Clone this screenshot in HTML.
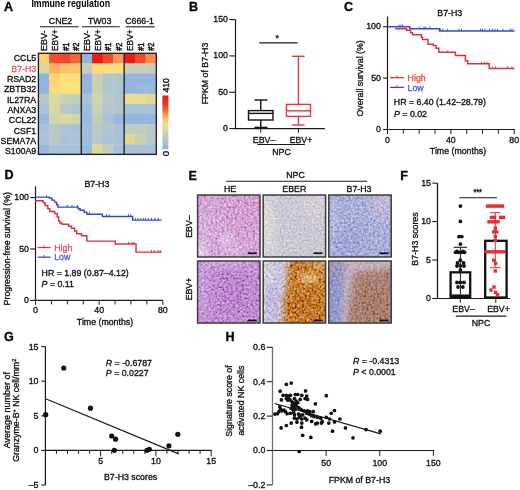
<!DOCTYPE html>
<html><head><meta charset="utf-8"><title>Figure</title>
<style>html,body{margin:0;padding:0;background:#fff;} svg{display:block;} text{font-family:'Liberation Sans', Arial, sans-serif;}</style>
</head><body>
<svg width="520" height="490" viewBox="0 0 520 490">
<rect width="520" height="490" fill="#fff"/>
<text transform="translate(4.00 11.00) scale(1.03 1)" font-size="12.20" font-weight="bold" fill="#000" stroke="#000" stroke-width="0.3">A</text>
<text transform="translate(189.00 11.00) scale(1.03 1)" font-size="12.20" font-weight="bold" fill="#000" stroke="#000" stroke-width="0.3">B</text>
<text transform="translate(344.00 11.30) scale(1.03 1)" font-size="12.20" font-weight="bold" fill="#000" stroke="#000" stroke-width="0.3">C</text>
<text transform="translate(4.40 179.30) scale(1.03 1)" font-size="12.20" font-weight="bold" fill="#000" stroke="#000" stroke-width="0.3">D</text>
<text transform="translate(188.60 180.00) scale(1.03 1)" font-size="12.20" font-weight="bold" fill="#000" stroke="#000" stroke-width="0.3">E</text>
<text transform="translate(400.30 180.00) scale(1.03 1)" font-size="12.20" font-weight="bold" fill="#000" stroke="#000" stroke-width="0.3">F</text>
<text transform="translate(4.00 340.60) scale(1.03 1)" font-size="12.20" font-weight="bold" fill="#000" stroke="#000" stroke-width="0.3">G</text>
<text transform="translate(225.60 340.50) scale(1.03 1)" font-size="12.20" font-weight="bold" fill="#000" stroke="#000" stroke-width="0.3">H</text>
<text transform="translate(31.40 6.60) scale(0.88 1)" font-size="10.00" font-weight="bold" fill="#000">Immune regulation</text>
<rect x="38.40" y="53.30" width="11.02" height="10.41" fill="#fbd36e"/>
<rect x="49.12" y="53.30" width="11.02" height="10.41" fill="#f24d2c"/>
<rect x="59.84" y="53.30" width="11.02" height="10.41" fill="#f0452a"/>
<rect x="70.55" y="53.30" width="11.02" height="10.41" fill="#f46637"/>
<rect x="81.27" y="53.30" width="11.02" height="10.41" fill="#92b5e0"/>
<rect x="91.99" y="53.30" width="11.02" height="10.41" fill="#f01a14"/>
<rect x="102.71" y="53.30" width="11.02" height="10.41" fill="#f24a28"/>
<rect x="113.43" y="53.30" width="11.02" height="10.41" fill="#f79a58"/>
<rect x="124.15" y="53.30" width="11.02" height="10.41" fill="#f01a14"/>
<rect x="134.86" y="53.30" width="11.02" height="10.41" fill="#f24a28"/>
<rect x="145.58" y="53.30" width="11.02" height="10.41" fill="#f88c48"/>
<rect x="38.40" y="63.41" width="11.02" height="10.41" fill="#d9d79a"/>
<rect x="49.12" y="63.41" width="11.02" height="10.41" fill="#f9b060"/>
<rect x="59.84" y="63.41" width="11.02" height="10.41" fill="#fbc26a"/>
<rect x="70.55" y="63.41" width="11.02" height="10.41" fill="#fbc56c"/>
<rect x="81.27" y="63.41" width="11.02" height="10.41" fill="#c8ccb8"/>
<rect x="91.99" y="63.41" width="11.02" height="10.41" fill="#fcdc7c"/>
<rect x="102.71" y="63.41" width="11.02" height="10.41" fill="#fcdc7c"/>
<rect x="113.43" y="63.41" width="11.02" height="10.41" fill="#fcdc80"/>
<rect x="124.15" y="63.41" width="11.02" height="10.41" fill="#c8d0b8"/>
<rect x="134.86" y="63.41" width="11.02" height="10.41" fill="#c8d0b8"/>
<rect x="145.58" y="63.41" width="11.02" height="10.41" fill="#c8ccb8"/>
<rect x="38.40" y="73.52" width="11.02" height="10.41" fill="#8fb3df"/>
<rect x="49.12" y="73.52" width="11.02" height="10.41" fill="#fcd470"/>
<rect x="59.84" y="73.52" width="11.02" height="10.41" fill="#fde07a"/>
<rect x="70.55" y="73.52" width="11.02" height="10.41" fill="#fde07a"/>
<rect x="81.27" y="73.52" width="11.02" height="10.41" fill="#92b5e0"/>
<rect x="91.99" y="73.52" width="11.02" height="10.41" fill="#c8d0b4"/>
<rect x="102.71" y="73.52" width="11.02" height="10.41" fill="#b0c4cc"/>
<rect x="113.43" y="73.52" width="11.02" height="10.41" fill="#b0c4d0"/>
<rect x="124.15" y="73.52" width="11.02" height="10.41" fill="#94b4e0"/>
<rect x="134.86" y="73.52" width="11.02" height="10.41" fill="#94b4e0"/>
<rect x="145.58" y="73.52" width="11.02" height="10.41" fill="#94b4e0"/>
<rect x="38.40" y="83.63" width="11.02" height="10.41" fill="#90b5df"/>
<rect x="49.12" y="83.63" width="11.02" height="10.41" fill="#fbd878"/>
<rect x="59.84" y="83.63" width="11.02" height="10.41" fill="#fde07a"/>
<rect x="70.55" y="83.63" width="11.02" height="10.41" fill="#fde07a"/>
<rect x="81.27" y="83.63" width="11.02" height="10.41" fill="#92b5e0"/>
<rect x="91.99" y="83.63" width="11.02" height="10.41" fill="#c8d0b4"/>
<rect x="102.71" y="83.63" width="11.02" height="10.41" fill="#b0c4cc"/>
<rect x="113.43" y="83.63" width="11.02" height="10.41" fill="#b0c4cc"/>
<rect x="124.15" y="83.63" width="11.02" height="10.41" fill="#94b4e0"/>
<rect x="134.86" y="83.63" width="11.02" height="10.41" fill="#98b8dc"/>
<rect x="145.58" y="83.63" width="11.02" height="10.41" fill="#98b8dc"/>
<rect x="38.40" y="93.74" width="11.02" height="10.41" fill="#b7c7c9"/>
<rect x="49.12" y="93.74" width="11.02" height="10.41" fill="#dad89c"/>
<rect x="59.84" y="93.74" width="11.02" height="10.41" fill="#c8d0b8"/>
<rect x="70.55" y="93.74" width="11.02" height="10.41" fill="#c0ccbe"/>
<rect x="81.27" y="93.74" width="11.02" height="10.41" fill="#a8c0d8"/>
<rect x="91.99" y="93.74" width="11.02" height="10.41" fill="#d0d4ac"/>
<rect x="102.71" y="93.74" width="11.02" height="10.41" fill="#b8c8c8"/>
<rect x="113.43" y="93.74" width="11.02" height="10.41" fill="#b0c4d0"/>
<rect x="124.15" y="93.74" width="11.02" height="10.41" fill="#e8dc90"/>
<rect x="134.86" y="93.74" width="11.02" height="10.41" fill="#e8dc90"/>
<rect x="145.58" y="93.74" width="11.02" height="10.41" fill="#e0d898"/>
<rect x="38.40" y="103.85" width="11.02" height="10.41" fill="#a8c0d8"/>
<rect x="49.12" y="103.85" width="11.02" height="10.41" fill="#d8d8a0"/>
<rect x="59.84" y="103.85" width="11.02" height="10.41" fill="#b8c8c8"/>
<rect x="70.55" y="103.85" width="11.02" height="10.41" fill="#b0c4d0"/>
<rect x="81.27" y="103.85" width="11.02" height="10.41" fill="#a0bcdc"/>
<rect x="91.99" y="103.85" width="11.02" height="10.41" fill="#c8d0b8"/>
<rect x="102.71" y="103.85" width="11.02" height="10.41" fill="#b4c4cc"/>
<rect x="113.43" y="103.85" width="11.02" height="10.41" fill="#b4c4cc"/>
<rect x="124.15" y="103.85" width="11.02" height="10.41" fill="#a8c0d8"/>
<rect x="134.86" y="103.85" width="11.02" height="10.41" fill="#a8c0d8"/>
<rect x="145.58" y="103.85" width="11.02" height="10.41" fill="#a8c0d8"/>
<rect x="38.40" y="113.96" width="11.02" height="10.41" fill="#98b8dc"/>
<rect x="49.12" y="113.96" width="11.02" height="10.41" fill="#d0d4a8"/>
<rect x="59.84" y="113.96" width="11.02" height="10.41" fill="#d8d8a0"/>
<rect x="70.55" y="113.96" width="11.02" height="10.41" fill="#d0d4a8"/>
<rect x="81.27" y="113.96" width="11.02" height="10.41" fill="#98b8e0"/>
<rect x="91.99" y="113.96" width="11.02" height="10.41" fill="#c0ccbc"/>
<rect x="102.71" y="113.96" width="11.02" height="10.41" fill="#a8c0d8"/>
<rect x="113.43" y="113.96" width="11.02" height="10.41" fill="#98b8e0"/>
<rect x="124.15" y="113.96" width="11.02" height="10.41" fill="#94b4e0"/>
<rect x="134.86" y="113.96" width="11.02" height="10.41" fill="#94b4e0"/>
<rect x="145.58" y="113.96" width="11.02" height="10.41" fill="#94b4e0"/>
<rect x="38.40" y="124.07" width="11.02" height="10.41" fill="#a8c0d8"/>
<rect x="49.12" y="124.07" width="11.02" height="10.41" fill="#b8c8c8"/>
<rect x="59.84" y="124.07" width="11.02" height="10.41" fill="#b0c4d0"/>
<rect x="70.55" y="124.07" width="11.02" height="10.41" fill="#a8c0d8"/>
<rect x="81.27" y="124.07" width="11.02" height="10.41" fill="#a0bcdc"/>
<rect x="91.99" y="124.07" width="11.02" height="10.41" fill="#b8c8c8"/>
<rect x="102.71" y="124.07" width="11.02" height="10.41" fill="#b0c4d0"/>
<rect x="113.43" y="124.07" width="11.02" height="10.41" fill="#a8c0d8"/>
<rect x="124.15" y="124.07" width="11.02" height="10.41" fill="#c0ccbc"/>
<rect x="134.86" y="124.07" width="11.02" height="10.41" fill="#c0ccbc"/>
<rect x="145.58" y="124.07" width="11.02" height="10.41" fill="#b8c8c8"/>
<rect x="38.40" y="134.18" width="11.02" height="10.41" fill="#a8c0d8"/>
<rect x="49.12" y="134.18" width="11.02" height="10.41" fill="#b8c8c8"/>
<rect x="59.84" y="134.18" width="11.02" height="10.41" fill="#a8c0d8"/>
<rect x="70.55" y="134.18" width="11.02" height="10.41" fill="#a8c0d8"/>
<rect x="81.27" y="134.18" width="11.02" height="10.41" fill="#a0bcdc"/>
<rect x="91.99" y="134.18" width="11.02" height="10.41" fill="#b8c8c8"/>
<rect x="102.71" y="134.18" width="11.02" height="10.41" fill="#a8c0d8"/>
<rect x="113.43" y="134.18" width="11.02" height="10.41" fill="#a8c0d8"/>
<rect x="124.15" y="134.18" width="11.02" height="10.41" fill="#e0d898"/>
<rect x="134.86" y="134.18" width="11.02" height="10.41" fill="#c8d0b4"/>
<rect x="145.58" y="134.18" width="11.02" height="10.41" fill="#b8c8c8"/>
<rect x="38.40" y="144.29" width="11.02" height="10.41" fill="#98b8e0"/>
<rect x="49.12" y="144.29" width="11.02" height="10.41" fill="#a8c0d8"/>
<rect x="59.84" y="144.29" width="11.02" height="10.41" fill="#a8c0d8"/>
<rect x="70.55" y="144.29" width="11.02" height="10.41" fill="#a8c0d8"/>
<rect x="81.27" y="144.29" width="11.02" height="10.41" fill="#98b8e0"/>
<rect x="91.99" y="144.29" width="11.02" height="10.41" fill="#e0d898"/>
<rect x="102.71" y="144.29" width="11.02" height="10.41" fill="#c0ccc0"/>
<rect x="113.43" y="144.29" width="11.02" height="10.41" fill="#a8c0d8"/>
<rect x="124.15" y="144.29" width="11.02" height="10.41" fill="#a8c0d8"/>
<rect x="134.86" y="144.29" width="11.02" height="10.41" fill="#a8c0d8"/>
<rect x="145.58" y="144.29" width="11.02" height="10.41" fill="#a8c0d8"/>
<rect x="38.40" y="53.30" width="117.90" height="101.10" fill="none" stroke="#1a1a1a" stroke-width="1.3"/>
<line x1="81.27" y1="53.30" x2="81.27" y2="154.40" stroke="#1a1a1a" stroke-width="1.3"/>
<line x1="124.15" y1="53.30" x2="124.15" y2="154.40" stroke="#1a1a1a" stroke-width="1.3"/>
<text transform="translate(36.20 61.40) scale(0.926 1)" font-size="9.50" text-anchor="end" stroke="#1a1a1a" stroke-width="0.35">CCL5</text>
<text transform="translate(36.20 71.70) scale(0.926 1)" font-size="9.50" text-anchor="end" fill="#e06262" stroke="#e06262" stroke-width="0.35">B7-H3</text>
<text transform="translate(36.20 82.00) scale(0.926 1)" font-size="9.50" text-anchor="end" stroke="#1a1a1a" stroke-width="0.35">RSAD2</text>
<text transform="translate(36.20 92.30) scale(0.926 1)" font-size="9.50" text-anchor="end" stroke="#1a1a1a" stroke-width="0.35">ZBTB32</text>
<text transform="translate(36.20 102.60) scale(0.926 1)" font-size="9.50" text-anchor="end" stroke="#1a1a1a" stroke-width="0.35">IL27RA</text>
<text transform="translate(36.20 112.90) scale(0.926 1)" font-size="9.50" text-anchor="end" stroke="#1a1a1a" stroke-width="0.35">ANXA3</text>
<text transform="translate(36.20 123.20) scale(0.926 1)" font-size="9.50" text-anchor="end" stroke="#1a1a1a" stroke-width="0.35">CCL22</text>
<text transform="translate(36.20 133.50) scale(0.926 1)" font-size="9.50" text-anchor="end" stroke="#1a1a1a" stroke-width="0.35">CSF1</text>
<text transform="translate(36.20 143.80) scale(0.926 1)" font-size="9.50" text-anchor="end" stroke="#1a1a1a" stroke-width="0.35">SEMA7A</text>
<text transform="translate(36.20 154.10) scale(0.926 1)" font-size="9.50" text-anchor="end" stroke="#1a1a1a" stroke-width="0.35">S100A9</text>
<text transform="translate(47.06 50.90) rotate(-90) scale(0.97 1)" font-size="9.20" stroke="#1a1a1a" stroke-width="0.35">EBV-</text>
<text transform="translate(57.78 50.90) rotate(-90) scale(0.9 1)" font-size="9.20" stroke="#1a1a1a" stroke-width="0.35">EBV+</text>
<text transform="translate(68.50 50.80) rotate(-90) scale(0.82 1)" font-size="9.00" stroke="#1a1a1a" stroke-width="0.5">#1</text>
<text transform="translate(79.21 50.80) rotate(-90) scale(0.82 1)" font-size="9.00" stroke="#1a1a1a" stroke-width="0.5">#2</text>
<text transform="translate(89.93 50.90) rotate(-90) scale(0.97 1)" font-size="9.20" stroke="#1a1a1a" stroke-width="0.35">EBV-</text>
<text transform="translate(100.65 50.90) rotate(-90) scale(0.9 1)" font-size="9.20" stroke="#1a1a1a" stroke-width="0.35">EBV+</text>
<text transform="translate(111.37 50.80) rotate(-90) scale(0.82 1)" font-size="9.00" stroke="#1a1a1a" stroke-width="0.5">#1</text>
<text transform="translate(122.09 50.80) rotate(-90) scale(0.82 1)" font-size="9.00" stroke="#1a1a1a" stroke-width="0.5">#2</text>
<text transform="translate(132.80 50.90) rotate(-90) scale(0.9 1)" font-size="9.20" stroke="#1a1a1a" stroke-width="0.35">EBV+</text>
<text transform="translate(143.52 50.80) rotate(-90) scale(0.82 1)" font-size="9.00" stroke="#1a1a1a" stroke-width="0.5">#1</text>
<text transform="translate(154.24 50.80) rotate(-90) scale(0.82 1)" font-size="9.00" stroke="#1a1a1a" stroke-width="0.5">#2</text>
<text transform="translate(60.50 24.20) scale(0.926 1)" font-size="9.50" text-anchor="middle" stroke="#1a1a1a" stroke-width="0.35">CNE2</text>
<line x1="40.00" y1="26.80" x2="78.70" y2="26.80" stroke="#1a1a1a" stroke-width="1.1"/>
<text transform="translate(99.60 24.20) scale(0.926 1)" font-size="9.50" text-anchor="middle" stroke="#1a1a1a" stroke-width="0.35">TW03</text>
<line x1="82.00" y1="26.80" x2="119.80" y2="26.80" stroke="#1a1a1a" stroke-width="1.1"/>
<text transform="translate(139.60 24.20) scale(0.926 1)" font-size="9.50" text-anchor="middle" stroke="#1a1a1a" stroke-width="0.35">C666-1</text>
<line x1="125.80" y1="26.80" x2="154.70" y2="26.80" stroke="#1a1a1a" stroke-width="1.1"/>
<defs><linearGradient id="cb" x1="0" y1="1" x2="0" y2="0"><stop offset="0" stop-color="#8cb2de"/><stop offset="0.2" stop-color="#b8c6c8"/><stop offset="0.35" stop-color="#d8d6a8"/><stop offset="0.48" stop-color="#f2e07c"/><stop offset="0.62" stop-color="#f6a650"/><stop offset="0.75" stop-color="#f05a2c"/><stop offset="0.88" stop-color="#ec2a1e"/><stop offset="1" stop-color="#ea1a1a"/></linearGradient></defs>
<rect x="162.40" y="95.50" width="6.00" height="53.70" fill="url(#cb)"/>
<text transform="translate(168.60 92.60) rotate(-90) scale(1.0 1)" font-size="8.60" stroke="#1a1a1a" stroke-width="0.35">410</text>
<text transform="translate(168.60 156.30) rotate(-90) scale(1.0 1)" font-size="9.66" stroke="#1a1a1a" stroke-width="0.35">0</text>
<line x1="235.50" y1="19.55" x2="235.50" y2="129.10" stroke="#1a1a1a" stroke-width="1.2"/>
<line x1="229.30" y1="128.60" x2="235.50" y2="128.60" stroke="#1a1a1a" stroke-width="1.1"/>
<text transform="translate(228.00 131.10) scale(0.926 1)" font-size="9.50" text-anchor="end" stroke="#1a1a1a" stroke-width="0.35">0</text>
<line x1="229.30" y1="92.25" x2="235.50" y2="92.25" stroke="#1a1a1a" stroke-width="1.1"/>
<text transform="translate(228.00 94.75) scale(0.926 1)" font-size="9.50" text-anchor="end" stroke="#1a1a1a" stroke-width="0.35">50</text>
<line x1="229.30" y1="55.90" x2="235.50" y2="55.90" stroke="#1a1a1a" stroke-width="1.1"/>
<text transform="translate(228.00 58.40) scale(0.926 1)" font-size="9.50" text-anchor="end" stroke="#1a1a1a" stroke-width="0.35">100</text>
<line x1="229.30" y1="19.55" x2="235.50" y2="19.55" stroke="#1a1a1a" stroke-width="1.1"/>
<text transform="translate(228.00 22.05) scale(0.926 1)" font-size="9.50" text-anchor="end" stroke="#1a1a1a" stroke-width="0.35">150</text>
<line x1="234.90" y1="128.60" x2="324.90" y2="128.60" stroke="#1a1a1a" stroke-width="1.2"/>
<text transform="translate(208.00 73.50) rotate(-90) scale(0.909 1)" font-size="9.68" text-anchor="middle" stroke="#1a1a1a" stroke-width="0.35">FPKM of B7-H3</text>
<rect x="248.50" y="110.60" width="24.50" height="9.40" fill="#fff" stroke="#111" stroke-width="1.4"/>
<line x1="248.50" y1="113.40" x2="273.00" y2="113.40" stroke="#111" stroke-width="1.4"/>
<line x1="260.75" y1="100.00" x2="260.75" y2="110.60" stroke="#111" stroke-width="1.4"/>
<line x1="260.75" y1="120.00" x2="260.75" y2="127.40" stroke="#111" stroke-width="1.4"/>
<line x1="254.50" y1="100.00" x2="267.50" y2="100.00" stroke="#111" stroke-width="1.4"/>
<line x1="254.50" y1="127.40" x2="267.50" y2="127.40" stroke="#111" stroke-width="1.4"/>
<rect x="286.40" y="104.40" width="24.10" height="12.00" fill="#fff" stroke="#e03844" stroke-width="1.4"/>
<line x1="286.40" y1="110.80" x2="310.50" y2="110.80" stroke="#e03844" stroke-width="1.4"/>
<line x1="298.45" y1="56.30" x2="298.45" y2="104.40" stroke="#e03844" stroke-width="1.4"/>
<line x1="298.45" y1="116.40" x2="298.45" y2="125.00" stroke="#e03844" stroke-width="1.4"/>
<line x1="292.00" y1="56.30" x2="304.60" y2="56.30" stroke="#e03844" stroke-width="1.4"/>
<line x1="292.00" y1="125.00" x2="304.60" y2="125.00" stroke="#e03844" stroke-width="1.4"/>
<line x1="259.30" y1="42.90" x2="297.40" y2="42.90" stroke="#1a1a1a" stroke-width="1.1"/>
<text transform="translate(277.30 40.50) scale(0.926 1)" font-size="9.50" text-anchor="middle" stroke="#1a1a1a" stroke-width="0.35">*</text>
<text transform="translate(264.10 142.60) scale(0.926 1)" font-size="9.50" text-anchor="middle" stroke="#1a1a1a" stroke-width="0.35">EBV–</text>
<line x1="260.75" y1="128.60" x2="260.75" y2="132.80" stroke="#1a1a1a" stroke-width="1.0"/>
<line x1="298.45" y1="128.60" x2="298.45" y2="132.80" stroke="#1a1a1a" stroke-width="1.0"/>
<text transform="translate(301.00 142.60) scale(0.926 1)" font-size="9.50" text-anchor="middle" stroke="#1a1a1a" stroke-width="0.35">EBV+</text>
<line x1="257.30" y1="144.50" x2="304.90" y2="144.50" stroke="#1a1a1a" stroke-width="1.1"/>
<text transform="translate(281.50 155.00) scale(0.926 1)" font-size="9.50" text-anchor="middle" stroke="#1a1a1a" stroke-width="0.35">NPC</text>
<line x1="387.50" y1="16.50" x2="387.50" y2="130.10" stroke="#1a1a1a" stroke-width="1.2"/>
<line x1="383.10" y1="129.50" x2="387.50" y2="129.50" stroke="#1a1a1a" stroke-width="1.1"/>
<text transform="translate(380.90 132.00) scale(0.926 1)" font-size="9.50" text-anchor="end" stroke="#1a1a1a" stroke-width="0.35">0</text>
<line x1="383.10" y1="78.10" x2="387.50" y2="78.10" stroke="#1a1a1a" stroke-width="1.1"/>
<text transform="translate(380.90 80.60) scale(0.926 1)" font-size="9.50" text-anchor="end" stroke="#1a1a1a" stroke-width="0.35">50</text>
<line x1="383.10" y1="26.70" x2="387.50" y2="26.70" stroke="#1a1a1a" stroke-width="1.1"/>
<text transform="translate(380.90 29.20) scale(0.926 1)" font-size="9.50" text-anchor="end" stroke="#1a1a1a" stroke-width="0.35">100</text>
<line x1="386.90" y1="129.50" x2="515.00" y2="129.50" stroke="#1a1a1a" stroke-width="1.2"/>
<line x1="387.50" y1="129.50" x2="387.50" y2="134.10" stroke="#1a1a1a" stroke-width="1.0"/>
<line x1="403.34" y1="129.50" x2="403.34" y2="133.70" stroke="#1a1a1a" stroke-width="1.0"/>
<line x1="419.18" y1="129.50" x2="419.18" y2="133.70" stroke="#1a1a1a" stroke-width="1.0"/>
<line x1="435.01" y1="129.50" x2="435.01" y2="133.70" stroke="#1a1a1a" stroke-width="1.0"/>
<line x1="450.85" y1="129.50" x2="450.85" y2="134.10" stroke="#1a1a1a" stroke-width="1.0"/>
<line x1="466.69" y1="129.50" x2="466.69" y2="133.70" stroke="#1a1a1a" stroke-width="1.0"/>
<line x1="482.52" y1="129.50" x2="482.52" y2="133.70" stroke="#1a1a1a" stroke-width="1.0"/>
<line x1="498.36" y1="129.50" x2="498.36" y2="133.70" stroke="#1a1a1a" stroke-width="1.0"/>
<line x1="514.20" y1="129.50" x2="514.20" y2="134.10" stroke="#1a1a1a" stroke-width="1.0"/>
<text transform="translate(387.50 142.80) scale(0.926 1)" font-size="9.50" text-anchor="middle" stroke="#1a1a1a" stroke-width="0.35">0</text>
<text transform="translate(450.85 142.80) scale(0.926 1)" font-size="9.50" text-anchor="middle" stroke="#1a1a1a" stroke-width="0.35">40</text>
<text transform="translate(514.20 142.80) scale(0.926 1)" font-size="9.50" text-anchor="middle" stroke="#1a1a1a" stroke-width="0.35">80</text>
<text transform="translate(458.00 154.30) scale(0.926 1)" font-size="9.50" text-anchor="middle" stroke="#1a1a1a" stroke-width="0.35">Time (months)</text>
<text transform="translate(449.80 16.40) scale(0.926 1)" font-size="9.50" text-anchor="middle" stroke="#1a1a1a" stroke-width="0.35">B7-H3</text>
<text transform="translate(363.20 78.40) rotate(-90) scale(0.909 1)" font-size="9.68" text-anchor="middle" stroke="#1a1a1a" stroke-width="0.35">Overall survival (%)</text>
<polyline points="387.80,26.80 409.90,26.80 409.90,28.80 439.50,28.80 439.50,30.90 514.60,30.90" fill="none" stroke="#3d45cc" stroke-width="1.45" stroke-linejoin="miter"/>
<line x1="399.00" y1="24.60" x2="399.00" y2="26.80" stroke="#3d45cc" stroke-width="0.9"/>
<line x1="401.00" y1="24.60" x2="401.00" y2="26.80" stroke="#3d45cc" stroke-width="0.9"/>
<line x1="402.50" y1="24.60" x2="402.50" y2="26.80" stroke="#3d45cc" stroke-width="0.9"/>
<line x1="419.30" y1="26.60" x2="419.30" y2="28.80" stroke="#3d45cc" stroke-width="0.9"/>
<line x1="424.00" y1="26.60" x2="424.00" y2="28.80" stroke="#3d45cc" stroke-width="0.9"/>
<line x1="425.40" y1="26.60" x2="425.40" y2="28.80" stroke="#3d45cc" stroke-width="0.9"/>
<line x1="430.00" y1="26.60" x2="430.00" y2="28.80" stroke="#3d45cc" stroke-width="0.9"/>
<line x1="440.50" y1="28.70" x2="440.50" y2="30.90" stroke="#3d45cc" stroke-width="0.9"/>
<line x1="443.00" y1="28.70" x2="443.00" y2="30.90" stroke="#3d45cc" stroke-width="0.9"/>
<line x1="447.70" y1="28.70" x2="447.70" y2="30.90" stroke="#3d45cc" stroke-width="0.9"/>
<line x1="459.00" y1="28.70" x2="459.00" y2="30.90" stroke="#3d45cc" stroke-width="0.9"/>
<line x1="461.50" y1="28.70" x2="461.50" y2="30.90" stroke="#3d45cc" stroke-width="0.9"/>
<line x1="480.50" y1="28.70" x2="480.50" y2="30.90" stroke="#3d45cc" stroke-width="0.9"/>
<line x1="482.50" y1="28.70" x2="482.50" y2="30.90" stroke="#3d45cc" stroke-width="0.9"/>
<line x1="485.00" y1="28.70" x2="485.00" y2="30.90" stroke="#3d45cc" stroke-width="0.9"/>
<line x1="489.50" y1="28.70" x2="489.50" y2="30.90" stroke="#3d45cc" stroke-width="0.9"/>
<line x1="492.50" y1="28.70" x2="492.50" y2="30.90" stroke="#3d45cc" stroke-width="0.9"/>
<line x1="495.00" y1="28.70" x2="495.00" y2="30.90" stroke="#3d45cc" stroke-width="0.9"/>
<line x1="497.50" y1="28.70" x2="497.50" y2="30.90" stroke="#3d45cc" stroke-width="0.9"/>
<line x1="503.00" y1="28.70" x2="503.00" y2="30.90" stroke="#3d45cc" stroke-width="0.9"/>
<line x1="510.00" y1="28.70" x2="510.00" y2="30.90" stroke="#3d45cc" stroke-width="0.9"/>
<line x1="512.00" y1="28.70" x2="512.00" y2="30.90" stroke="#3d45cc" stroke-width="0.9"/>
<polyline points="395.10,28.80 406.50,28.80 406.50,30.20 410.60,30.20 410.60,32.80 412.60,32.80 412.60,34.80 421.30,34.80 421.30,37.20 422.50,37.20 422.50,39.50 428.00,39.50 428.00,44.20 433.50,44.20 433.50,45.60 436.10,45.60 436.10,48.30 438.80,48.30 438.80,52.30 455.40,52.30 455.40,55.40 465.40,55.40 465.40,60.80 467.70,60.80 467.70,63.80 489.20,63.80 489.20,68.50 514.60,68.50" fill="none" stroke="#d8323f" stroke-width="1.45" stroke-linejoin="miter"/>
<line x1="447.70" y1="50.10" x2="447.70" y2="52.30" stroke="#d8323f" stroke-width="0.9"/>
<line x1="481.50" y1="61.60" x2="481.50" y2="63.80" stroke="#d8323f" stroke-width="0.9"/>
<line x1="484.60" y1="61.60" x2="484.60" y2="63.80" stroke="#d8323f" stroke-width="0.9"/>
<line x1="487.00" y1="61.60" x2="487.00" y2="63.80" stroke="#d8323f" stroke-width="0.9"/>
<line x1="492.30" y1="66.30" x2="492.30" y2="68.50" stroke="#d8323f" stroke-width="0.9"/>
<line x1="495.40" y1="66.30" x2="495.40" y2="68.50" stroke="#d8323f" stroke-width="0.9"/>
<line x1="507.70" y1="66.30" x2="507.70" y2="68.50" stroke="#d8323f" stroke-width="0.9"/>
<line x1="512.00" y1="66.30" x2="512.00" y2="68.50" stroke="#d8323f" stroke-width="0.9"/>
<line x1="390.00" y1="77.60" x2="404.00" y2="77.60" stroke="#d8323f" stroke-width="1.3"/>
<line x1="397.00" y1="75.50" x2="397.00" y2="77.60" stroke="#d8323f" stroke-width="0.9"/>
<line x1="390.00" y1="87.40" x2="404.00" y2="87.40" stroke="#3d45cc" stroke-width="1.3"/>
<line x1="397.00" y1="85.30" x2="397.00" y2="87.40" stroke="#3d45cc" stroke-width="0.9"/>
<text transform="translate(407.60 81.30) scale(0.926 1)" font-size="9.50" fill="#e8505a" stroke="#e8505a" stroke-width="0.35">High</text>
<text transform="translate(407.60 91.10) scale(0.926 1)" font-size="9.50" fill="#5060e0" stroke="#5060e0" stroke-width="0.35">Low</text>
<text transform="translate(393.80 105.00) scale(0.926 1)" font-size="9.50" stroke="#1a1a1a" stroke-width="0.35">HR = 6.40 (1.42–28.79)</text>
<text transform="translate(394.00 117.30) scale(0.926 1)" font-size="9.50" stroke="#1a1a1a" stroke-width="0.35"><tspan font-style="italic">P</tspan> = 0.02</text>
<line x1="35.50" y1="186.30" x2="35.50" y2="301.00" stroke="#1a1a1a" stroke-width="1.2"/>
<line x1="30.20" y1="300.40" x2="35.50" y2="300.40" stroke="#1a1a1a" stroke-width="1.1"/>
<text transform="translate(29.00 302.90) scale(0.926 1)" font-size="9.50" text-anchor="end" stroke="#1a1a1a" stroke-width="0.35">0</text>
<line x1="30.20" y1="249.00" x2="35.50" y2="249.00" stroke="#1a1a1a" stroke-width="1.1"/>
<text transform="translate(29.00 251.50) scale(0.926 1)" font-size="9.50" text-anchor="end" stroke="#1a1a1a" stroke-width="0.35">50</text>
<line x1="30.20" y1="197.60" x2="35.50" y2="197.60" stroke="#1a1a1a" stroke-width="1.1"/>
<text transform="translate(29.00 200.10) scale(0.926 1)" font-size="9.50" text-anchor="end" stroke="#1a1a1a" stroke-width="0.35">100</text>
<line x1="34.90" y1="300.40" x2="163.00" y2="300.40" stroke="#1a1a1a" stroke-width="1.2"/>
<line x1="35.50" y1="300.40" x2="35.50" y2="304.80" stroke="#1a1a1a" stroke-width="1.0"/>
<line x1="51.41" y1="300.40" x2="51.41" y2="304.40" stroke="#1a1a1a" stroke-width="1.0"/>
<line x1="67.33" y1="300.40" x2="67.33" y2="304.40" stroke="#1a1a1a" stroke-width="1.0"/>
<line x1="83.24" y1="300.40" x2="83.24" y2="304.40" stroke="#1a1a1a" stroke-width="1.0"/>
<line x1="99.15" y1="300.40" x2="99.15" y2="304.80" stroke="#1a1a1a" stroke-width="1.0"/>
<line x1="115.06" y1="300.40" x2="115.06" y2="304.40" stroke="#1a1a1a" stroke-width="1.0"/>
<line x1="130.98" y1="300.40" x2="130.98" y2="304.40" stroke="#1a1a1a" stroke-width="1.0"/>
<line x1="146.89" y1="300.40" x2="146.89" y2="304.40" stroke="#1a1a1a" stroke-width="1.0"/>
<line x1="162.80" y1="300.40" x2="162.80" y2="304.80" stroke="#1a1a1a" stroke-width="1.0"/>
<text transform="translate(35.50 312.50) scale(0.926 1)" font-size="9.50" text-anchor="middle" stroke="#1a1a1a" stroke-width="0.35">0</text>
<text transform="translate(99.15 312.50) scale(0.926 1)" font-size="9.50" text-anchor="middle" stroke="#1a1a1a" stroke-width="0.35">40</text>
<text transform="translate(162.80 312.50) scale(0.926 1)" font-size="9.50" text-anchor="middle" stroke="#1a1a1a" stroke-width="0.35">80</text>
<text transform="translate(105.00 324.60) scale(0.926 1)" font-size="9.50" text-anchor="middle" stroke="#1a1a1a" stroke-width="0.35">Time (months)</text>
<text transform="translate(96.90 187.10) scale(0.926 1)" font-size="9.50" text-anchor="middle" stroke="#1a1a1a" stroke-width="0.35">B7-H3</text>
<text transform="translate(9.60 248.70) rotate(-90) scale(0.909 1)" font-size="9.68" text-anchor="middle" stroke="#1a1a1a" stroke-width="0.35">Progression-free survival (%)</text>
<polyline points="35.30,197.10 49.20,197.10 49.20,198.00 51.80,198.00 51.80,200.10 54.50,200.10 54.50,202.10 56.60,202.10 56.60,204.80 57.90,204.80 57.90,207.10 78.10,207.10 78.10,208.80 80.10,208.80 80.10,210.20 84.10,210.20 84.10,212.20 86.80,212.20 86.80,214.20 102.40,214.20 102.40,216.40 132.70,216.40 132.70,220.10 161.60,220.10" fill="none" stroke="#3d45cc" stroke-width="1.45" stroke-linejoin="miter"/>
<line x1="46.50" y1="194.90" x2="46.50" y2="197.10" stroke="#3d45cc" stroke-width="0.9"/>
<line x1="67.30" y1="204.90" x2="67.30" y2="207.10" stroke="#3d45cc" stroke-width="0.9"/>
<line x1="72.00" y1="204.90" x2="72.00" y2="207.10" stroke="#3d45cc" stroke-width="0.9"/>
<line x1="77.40" y1="204.90" x2="77.40" y2="207.10" stroke="#3d45cc" stroke-width="0.9"/>
<line x1="89.50" y1="212.00" x2="89.50" y2="214.20" stroke="#3d45cc" stroke-width="0.9"/>
<line x1="106.40" y1="214.20" x2="106.40" y2="216.40" stroke="#3d45cc" stroke-width="0.9"/>
<line x1="109.10" y1="214.20" x2="109.10" y2="216.40" stroke="#3d45cc" stroke-width="0.9"/>
<line x1="128.60" y1="214.20" x2="128.60" y2="216.40" stroke="#3d45cc" stroke-width="0.9"/>
<line x1="130.70" y1="214.20" x2="130.70" y2="216.40" stroke="#3d45cc" stroke-width="0.9"/>
<line x1="135.40" y1="217.90" x2="135.40" y2="220.10" stroke="#3d45cc" stroke-width="0.9"/>
<line x1="138.10" y1="217.90" x2="138.10" y2="220.10" stroke="#3d45cc" stroke-width="0.9"/>
<line x1="140.80" y1="217.90" x2="140.80" y2="220.10" stroke="#3d45cc" stroke-width="0.9"/>
<line x1="143.50" y1="217.90" x2="143.50" y2="220.10" stroke="#3d45cc" stroke-width="0.9"/>
<line x1="145.50" y1="217.90" x2="145.50" y2="220.10" stroke="#3d45cc" stroke-width="0.9"/>
<line x1="148.20" y1="217.90" x2="148.20" y2="220.10" stroke="#3d45cc" stroke-width="0.9"/>
<line x1="151.50" y1="217.90" x2="151.50" y2="220.10" stroke="#3d45cc" stroke-width="0.9"/>
<line x1="154.90" y1="217.90" x2="154.90" y2="220.10" stroke="#3d45cc" stroke-width="0.9"/>
<line x1="158.30" y1="217.90" x2="158.30" y2="220.10" stroke="#3d45cc" stroke-width="0.9"/>
<polyline points="35.30,200.70 43.10,200.70 43.10,202.80 45.10,202.80 45.10,205.50 47.80,205.50 47.80,208.80 49.80,208.80 49.80,211.50 54.50,211.50 54.50,213.50 57.20,213.50 57.20,216.90 58.60,216.90 58.60,220.90 59.90,220.90 59.90,223.00 61.90,223.00 61.90,224.30 68.70,224.30 68.70,226.30 71.40,226.30 71.40,228.30 74.70,228.30 74.70,231.00 76.70,231.00 76.70,233.70 81.50,233.70 81.50,235.70 86.80,235.70 86.80,241.10 115.20,241.10 115.20,244.00 136.00,244.00 136.00,252.10 161.60,252.10" fill="none" stroke="#d8323f" stroke-width="1.45" stroke-linejoin="miter"/>
<line x1="128.60" y1="241.80" x2="128.60" y2="244.00" stroke="#d8323f" stroke-width="0.9"/>
<line x1="132.00" y1="241.80" x2="132.00" y2="244.00" stroke="#d8323f" stroke-width="0.9"/>
<line x1="134.00" y1="241.80" x2="134.00" y2="244.00" stroke="#d8323f" stroke-width="0.9"/>
<line x1="151.50" y1="249.90" x2="151.50" y2="252.10" stroke="#d8323f" stroke-width="0.9"/>
<line x1="154.20" y1="249.90" x2="154.20" y2="252.10" stroke="#d8323f" stroke-width="0.9"/>
<line x1="158.30" y1="249.90" x2="158.30" y2="252.10" stroke="#d8323f" stroke-width="0.9"/>
<line x1="160.30" y1="249.90" x2="160.30" y2="252.10" stroke="#d8323f" stroke-width="0.9"/>
<line x1="37.60" y1="247.50" x2="50.60" y2="247.50" stroke="#d8323f" stroke-width="1.3"/>
<line x1="44.10" y1="245.40" x2="44.10" y2="247.50" stroke="#d8323f" stroke-width="0.9"/>
<line x1="37.60" y1="257.20" x2="50.60" y2="257.20" stroke="#3d45cc" stroke-width="1.3"/>
<line x1="44.10" y1="255.10" x2="44.10" y2="257.20" stroke="#3d45cc" stroke-width="0.9"/>
<text transform="translate(54.20 250.80) scale(0.926 1)" font-size="9.50" fill="#e8505a" stroke="#e8505a" stroke-width="0.35">High</text>
<text transform="translate(54.20 260.40) scale(0.926 1)" font-size="9.50" fill="#5060e0" stroke="#5060e0" stroke-width="0.35">Low</text>
<text transform="translate(41.60 275.50) scale(0.926 1)" font-size="9.50" stroke="#1a1a1a" stroke-width="0.35">HR = 1.89 (0.87–4.12)</text>
<text transform="translate(41.60 286.60) scale(0.926 1)" font-size="9.50" stroke="#1a1a1a" stroke-width="0.35"><tspan font-style="italic">P</tspan> = 0.11</text>
<text transform="translate(295.50 178.00) scale(0.926 1)" font-size="9.50" text-anchor="middle" stroke="#1a1a1a" stroke-width="0.35">NPC</text>
<line x1="226.20" y1="181.20" x2="367.10" y2="181.20" stroke="#1a1a1a" stroke-width="1.1"/>
<text transform="translate(230.00 192.00) scale(0.926 1)" font-size="9.50" text-anchor="middle" stroke="#1a1a1a" stroke-width="0.35">HE</text>
<text transform="translate(294.30 192.00) scale(0.926 1)" font-size="9.50" text-anchor="middle" stroke="#1a1a1a" stroke-width="0.35">EBER</text>
<text transform="translate(359.00 192.00) scale(0.926 1)" font-size="9.50" text-anchor="middle" stroke="#1a1a1a" stroke-width="0.35">B7-H3</text>
<text transform="translate(192.00 226.60) rotate(-90) scale(0.909 1)" font-size="9.68" text-anchor="middle" stroke="#1a1a1a" stroke-width="0.35">EBV–</text>
<text transform="translate(191.60 289.00) rotate(-90) scale(0.909 1)" font-size="9.68" text-anchor="middle" stroke="#1a1a1a" stroke-width="0.35">EBV+</text>
<defs>
<filter id="tx0" x="0" y="0" width="1" height="1"><feTurbulence type="fractalNoise" baseFrequency="0.45" numOctaves="3" seed="3" result="t"/><feColorMatrix in="t" type="matrix" values="1 0 0 0 0  1 0 0 0 0  1 0 0 0 0  0 0 0 0 1" result="g0"/><feComponentTransfer in="g0" result="g"><feFuncR type="table" tableValues="0 0.05 0.3 0.5 0.7 0.95 1"/><feFuncG type="table" tableValues="0 0.05 0.3 0.5 0.7 0.95 1"/><feFuncB type="table" tableValues="0 0.05 0.3 0.5 0.7 0.95 1"/></feComponentTransfer><feComposite in="SourceGraphic" in2="g" operator="arithmetic" k1="0" k2="1" k3="0.6" k4="-0.300"/></filter>
<filter id="tx1" x="0" y="0" width="1" height="1"><feTurbulence type="fractalNoise" baseFrequency="0.5" numOctaves="3" seed="5" result="t"/><feColorMatrix in="t" type="matrix" values="1 0 0 0 0  1 0 0 0 0  1 0 0 0 0  0 0 0 0 1" result="g0"/><feComponentTransfer in="g0" result="g"><feFuncR type="table" tableValues="0 0.05 0.3 0.5 0.7 0.95 1"/><feFuncG type="table" tableValues="0 0.05 0.3 0.5 0.7 0.95 1"/><feFuncB type="table" tableValues="0 0.05 0.3 0.5 0.7 0.95 1"/></feComponentTransfer><feComposite in="SourceGraphic" in2="g" operator="arithmetic" k1="0" k2="1" k3="0.45" k4="-0.225"/></filter>
<filter id="tx2" x="0" y="0" width="1" height="1"><feTurbulence type="fractalNoise" baseFrequency="0.45" numOctaves="3" seed="8" result="t"/><feColorMatrix in="t" type="matrix" values="1 0 0 0 0  1 0 0 0 0  1 0 0 0 0  0 0 0 0 1" result="g0"/><feComponentTransfer in="g0" result="g"><feFuncR type="table" tableValues="0 0.05 0.3 0.5 0.7 0.95 1"/><feFuncG type="table" tableValues="0 0.05 0.3 0.5 0.7 0.95 1"/><feFuncB type="table" tableValues="0 0.05 0.3 0.5 0.7 0.95 1"/></feComponentTransfer><feComposite in="SourceGraphic" in2="g" operator="arithmetic" k1="0" k2="1" k3="0.55" k4="-0.275"/></filter>
<filter id="tx3" x="0" y="0" width="1" height="1"><feTurbulence type="fractalNoise" baseFrequency="0.45" numOctaves="3" seed="11" result="t"/><feColorMatrix in="t" type="matrix" values="1 0 0 0 0  1 0 0 0 0  1 0 0 0 0  0 0 0 0 1" result="g0"/><feComponentTransfer in="g0" result="g"><feFuncR type="table" tableValues="0 0.05 0.3 0.5 0.7 0.95 1"/><feFuncG type="table" tableValues="0 0.05 0.3 0.5 0.7 0.95 1"/><feFuncB type="table" tableValues="0 0.05 0.3 0.5 0.7 0.95 1"/></feComponentTransfer><feComposite in="SourceGraphic" in2="g" operator="arithmetic" k1="0" k2="1" k3="0.55" k4="-0.275"/></filter>
<filter id="tx4" x="0" y="0" width="1" height="1"><feTurbulence type="fractalNoise" baseFrequency="0.42" numOctaves="3" seed="13" result="t"/><feColorMatrix in="t" type="matrix" values="1 0 0 0 0  1 0 0 0 0  1 0 0 0 0  0 0 0 0 1" result="g0"/><feComponentTransfer in="g0" result="g"><feFuncR type="table" tableValues="0 0.05 0.3 0.5 0.7 0.95 1"/><feFuncG type="table" tableValues="0 0.05 0.3 0.5 0.7 0.95 1"/><feFuncB type="table" tableValues="0 0.05 0.3 0.5 0.7 0.95 1"/></feComponentTransfer><feComposite in="SourceGraphic" in2="g" operator="arithmetic" k1="0" k2="1" k3="0.6" k4="-0.300"/></filter>
<filter id="tx5" x="0" y="0" width="1" height="1"><feTurbulence type="fractalNoise" baseFrequency="0.45" numOctaves="3" seed="17" result="t"/><feColorMatrix in="t" type="matrix" values="1 0 0 0 0  1 0 0 0 0  1 0 0 0 0  0 0 0 0 1" result="g0"/><feComponentTransfer in="g0" result="g"><feFuncR type="table" tableValues="0 0.05 0.3 0.5 0.7 0.95 1"/><feFuncG type="table" tableValues="0 0.05 0.3 0.5 0.7 0.95 1"/><feFuncB type="table" tableValues="0 0.05 0.3 0.5 0.7 0.95 1"/></feComponentTransfer><feComposite in="SourceGraphic" in2="g" operator="arithmetic" k1="0" k2="1" k3="0.36" k4="-0.180"/></filter>
<filter id="bl3" x="-50%" y="-50%" width="200%" height="200%"><feGaussianBlur stdDeviation="3"/></filter>
<filter id="bl6" x="-50%" y="-50%" width="200%" height="200%"><feGaussianBlur stdDeviation="6"/></filter>
</defs>
<clipPath id="clip0"><rect x="197.6" y="195.0" width="62.4" height="62.0"/></clipPath>
<g clip-path="url(#clip0)"><g filter="url(#tx0)">
<rect x="195.6" y="193.0" width="66.4" height="66.0" fill="#d4a6d6"/>
<ellipse cx="245" cy="210" rx="22" ry="22" fill="#d49ccc" opacity="0.6" filter="url(#bl6)"/>
<ellipse cx="201" cy="251" rx="5" ry="9" fill="#f4f2f6" opacity="0.95" filter="url(#bl3)"/>
<ellipse cx="226" cy="240" rx="4" ry="10" fill="#e8d8ec" opacity="0.6" filter="url(#bl3)"/>
<ellipse cx="203" cy="240" rx="8" ry="30" fill="#d8b8e0" opacity="0.7" filter="url(#bl6)"/>
<ellipse cx="232" cy="250" rx="6" ry="6" fill="#ecd8ec" opacity="0.6" filter="url(#bl6)"/>
</g></g>
<rect x="197.6" y="195.0" width="62.4" height="62.0" fill="none" stroke="#3c3c3c" stroke-width="1.5"/>
<rect x="247.8" y="252.4" width="9" height="1.7" fill="#111"/>
<clipPath id="clip1"><rect x="263.2" y="195.0" width="62.4" height="62.0"/></clipPath>
<g clip-path="url(#clip1)"><g filter="url(#tx1)">
<rect x="261.2" y="193.0" width="66.4" height="66.0" fill="#ccc9d6"/>
<ellipse cx="266" cy="226" rx="6" ry="32" fill="#e4e4d8" opacity="0.9" filter="url(#bl6)"/>
<ellipse cx="318" cy="205" rx="14" ry="14" fill="#dccfd8" opacity="0.7" filter="url(#bl6)"/>
</g></g>
<rect x="263.2" y="195.0" width="62.4" height="62.0" fill="none" stroke="#3c3c3c" stroke-width="1.5"/>
<rect x="313.5" y="252.4" width="9" height="1.7" fill="#111"/>
<clipPath id="clip2"><rect x="328.8" y="195.0" width="62.4" height="62.0"/></clipPath>
<g clip-path="url(#clip2)"><g filter="url(#tx2)">
<rect x="326.8" y="193.0" width="66.4" height="66.0" fill="#a9afd9"/>
<ellipse cx="385" cy="205" rx="16" ry="16" fill="#c8b8d8" opacity="0.9" filter="url(#bl6)"/>
<ellipse cx="332" cy="226" rx="4" ry="30" fill="#c8c8dc" opacity="0.7" filter="url(#bl6)"/>
<ellipse cx="348" cy="242" rx="16" ry="14" fill="#9ca6d8" opacity="0.8" filter="url(#bl6)"/>
</g></g>
<rect x="328.8" y="195.0" width="62.4" height="62.0" fill="none" stroke="#3c3c3c" stroke-width="1.5"/>
<rect x="379.5" y="252.4" width="9" height="1.7" fill="#111"/>
<clipPath id="clip3"><rect x="197.6" y="261.0" width="62.4" height="62.0"/></clipPath>
<g clip-path="url(#clip3)"><g filter="url(#tx3)">
<rect x="195.6" y="259.0" width="66.4" height="66.0" fill="#c28ed0"/>
<ellipse cx="228" cy="262" rx="34" ry="5" fill="#d4b0e2" opacity="0.9" filter="url(#bl6)"/>
<ellipse cx="235" cy="295" rx="14" ry="22" fill="#b478c8" opacity="0.45" filter="url(#bl6)"/>
<ellipse cx="200" cy="290" rx="6" ry="30" fill="#cdb0e0" opacity="0.7" filter="url(#bl6)"/>
</g></g>
<rect x="197.6" y="261.0" width="62.4" height="62.0" fill="none" stroke="#3c3c3c" stroke-width="1.5"/>
<rect x="247.8" y="319.6" width="9" height="1.7" fill="#111"/>
<clipPath id="clip4"><rect x="263.2" y="261.0" width="62.4" height="62.0"/></clipPath>
<g clip-path="url(#clip4)"><g filter="url(#tx4)">
<rect x="261.2" y="259.0" width="66.4" height="66.0" fill="#ccc6dc"/>
<polygon points="289,259 328,259 328,326 283,326 284,300 286,285" fill="#c27e30" opacity="1" filter="url(#bl3)"/>
<ellipse cx="309" cy="278" rx="11" ry="4" fill="#e6cc9c" opacity="0.95" filter="url(#bl3)"/>
<ellipse cx="320" cy="265" rx="8" ry="5" fill="#dcb884" opacity="0.8" filter="url(#bl3)"/>
<ellipse cx="300" cy="308" rx="12" ry="12" fill="#b87020" opacity="0.6" filter="url(#bl6)"/>
<ellipse cx="273" cy="300" rx="5" ry="20" fill="#bab6d8" opacity="0.8" filter="url(#bl3)"/>
<ellipse cx="268" cy="275" rx="3" ry="14" fill="#e0dce6" opacity="0.7" filter="url(#bl3)"/>
</g></g>
<rect x="263.2" y="261.0" width="62.4" height="62.0" fill="none" stroke="#3c3c3c" stroke-width="1.5"/>
<rect x="313.5" y="319.6" width="9" height="1.7" fill="#111"/>
<clipPath id="clip5"><rect x="328.8" y="261.0" width="62.4" height="62.0"/></clipPath>
<g clip-path="url(#clip5)"><g filter="url(#tx5)">
<rect x="326.8" y="259.0" width="66.4" height="66.0" fill="#c4b0c0"/>
<polygon points="326,259 345,259 341,326 326,326" fill="#9098cc" opacity="1" filter="url(#bl3)"/>
<polygon points="354,272 395,268 395,326 346,326" fill="#ab8276" opacity="1" filter="url(#bl3)"/>
<ellipse cx="334" cy="270" rx="6" ry="10" fill="#b09090" opacity="0.6" filter="url(#bl6)"/>
<ellipse cx="372" cy="305" rx="14" ry="16" fill="#a07266" opacity="0.45" filter="url(#bl6)"/>
<ellipse cx="365" cy="264" rx="20" ry="4" fill="#c8a8b8" opacity="0.8" filter="url(#bl6)"/>
</g></g>
<rect x="328.8" y="261.0" width="62.4" height="62.0" fill="none" stroke="#3c3c3c" stroke-width="1.5"/>
<rect x="379.5" y="319.6" width="9" height="1.7" fill="#111"/>
<line x1="437.50" y1="183.11" x2="437.50" y2="299.10" stroke="#1a1a1a" stroke-width="1.3"/>
<line x1="432.30" y1="298.50" x2="437.50" y2="298.50" stroke="#1a1a1a" stroke-width="1.1"/>
<text transform="translate(430.90 301.00) scale(0.926 1)" font-size="9.50" text-anchor="end" stroke="#1a1a1a" stroke-width="0.35">0</text>
<line x1="432.30" y1="260.04" x2="437.50" y2="260.04" stroke="#1a1a1a" stroke-width="1.1"/>
<text transform="translate(430.90 262.54) scale(0.926 1)" font-size="9.50" text-anchor="end" stroke="#1a1a1a" stroke-width="0.35">5</text>
<line x1="432.30" y1="221.57" x2="437.50" y2="221.57" stroke="#1a1a1a" stroke-width="1.1"/>
<text transform="translate(430.90 224.07) scale(0.926 1)" font-size="9.50" text-anchor="end" stroke="#1a1a1a" stroke-width="0.35">10</text>
<line x1="432.30" y1="183.11" x2="437.50" y2="183.11" stroke="#1a1a1a" stroke-width="1.1"/>
<text transform="translate(430.90 185.61) scale(0.926 1)" font-size="9.50" text-anchor="end" stroke="#1a1a1a" stroke-width="0.35">15</text>
<line x1="436.50" y1="298.50" x2="510.00" y2="298.50" stroke="#1a1a1a" stroke-width="1.2"/>
<line x1="460.30" y1="298.50" x2="460.30" y2="302.80" stroke="#1a1a1a" stroke-width="1.0"/>
<line x1="495.80" y1="298.50" x2="495.80" y2="302.80" stroke="#1a1a1a" stroke-width="1.0"/>
<text transform="translate(418.00 239.00) rotate(-90) scale(0.909 1)" font-size="9.68" text-anchor="middle" stroke="#1a1a1a" stroke-width="0.35">B7-H3 scores</text>
<line x1="459.40" y1="197.70" x2="496.90" y2="197.70" stroke="#1a1a1a" stroke-width="1.1"/>
<text transform="translate(477.60 195.10) scale(0.85 1)" font-size="8.30" text-anchor="middle" stroke="#1a1a1a" stroke-width="0.35">***</text>
<text transform="translate(463.60 311.80) scale(0.926 1)" font-size="9.50" text-anchor="middle" stroke="#1a1a1a" stroke-width="0.35">EBV–</text>
<text transform="translate(498.50 311.80) scale(0.926 1)" font-size="9.50" text-anchor="middle" stroke="#1a1a1a" stroke-width="0.35">EBV+</text>
<line x1="455.80" y1="316.10" x2="506.30" y2="316.10" stroke="#1a1a1a" stroke-width="1.1"/>
<text transform="translate(481.00 326.30) scale(0.926 1)" font-size="9.50" text-anchor="middle" stroke="#1a1a1a" stroke-width="0.35">NPC</text>
<rect x="450.6" y="272.34" width="19.6" height="25.16" fill="none" stroke="#111" stroke-width="2.3"/>
<rect x="485.2" y="240.80" width="21.4" height="56.70" fill="none" stroke="#111" stroke-width="2.3"/>
<circle cx="460.40" cy="206.10" r="1.9" fill="#111"/>
<circle cx="460.40" cy="221.40" r="1.9" fill="#111"/>
<circle cx="459.00" cy="236.60" r="1.9" fill="#111"/>
<circle cx="461.80" cy="236.60" r="1.9" fill="#111"/>
<circle cx="460.40" cy="244.10" r="1.9" fill="#111"/>
<circle cx="455.50" cy="252.30" r="1.9" fill="#111"/>
<circle cx="458.50" cy="252.30" r="1.9" fill="#111"/>
<circle cx="461.50" cy="252.30" r="1.9" fill="#111"/>
<circle cx="464.50" cy="252.30" r="1.9" fill="#111"/>
<circle cx="457.00" cy="251.50" r="1.9" fill="#111"/>
<circle cx="463.00" cy="251.50" r="1.9" fill="#111"/>
<circle cx="460.40" cy="260.20" r="1.9" fill="#111"/>
<circle cx="457.50" cy="263.00" r="1.9" fill="#111"/>
<circle cx="463.50" cy="263.00" r="1.9" fill="#111"/>
<circle cx="460.40" cy="265.80" r="1.9" fill="#111"/>
<circle cx="457.00" cy="266.00" r="1.9" fill="#111"/>
<circle cx="464.00" cy="266.00" r="1.9" fill="#111"/>
<circle cx="460.40" cy="270.00" r="1.9" fill="#111"/>
<circle cx="457.00" cy="282.40" r="1.9" fill="#111"/>
<circle cx="460.40" cy="282.40" r="1.9" fill="#111"/>
<circle cx="464.00" cy="282.40" r="1.9" fill="#111"/>
<circle cx="458.00" cy="287.00" r="1.9" fill="#111"/>
<circle cx="462.80" cy="287.00" r="1.9" fill="#111"/>
<circle cx="453.00" cy="296.20" r="1.9" fill="#111"/>
<circle cx="455.50" cy="296.20" r="1.9" fill="#111"/>
<circle cx="458.00" cy="296.20" r="1.9" fill="#111"/>
<circle cx="460.50" cy="296.20" r="1.9" fill="#111"/>
<circle cx="463.00" cy="296.20" r="1.9" fill="#111"/>
<circle cx="465.50" cy="296.20" r="1.9" fill="#111"/>
<circle cx="468.00" cy="296.20" r="1.9" fill="#111"/>
<line x1="460.40" y1="247.30" x2="460.40" y2="296.00" stroke="#1a1a1a" stroke-width="1.0"/>
<line x1="453.70" y1="247.30" x2="467.00" y2="247.30" stroke="#1a1a1a" stroke-width="1.1"/>
<rect x="485.80" y="204.40" width="3.4" height="3.4" fill="#e62c36"/>
<rect x="488.80" y="204.40" width="3.4" height="3.4" fill="#e62c36"/>
<rect x="491.80" y="204.40" width="3.4" height="3.4" fill="#e62c36"/>
<rect x="494.80" y="204.40" width="3.4" height="3.4" fill="#e62c36"/>
<rect x="497.80" y="204.40" width="3.4" height="3.4" fill="#e62c36"/>
<rect x="500.80" y="204.40" width="3.4" height="3.4" fill="#e62c36"/>
<rect x="489.80" y="215.70" width="3.4" height="3.4" fill="#e62c36"/>
<rect x="492.80" y="215.70" width="3.4" height="3.4" fill="#e62c36"/>
<rect x="498.80" y="215.70" width="3.4" height="3.4" fill="#e62c36"/>
<rect x="501.80" y="215.70" width="3.4" height="3.4" fill="#e62c36"/>
<rect x="487.30" y="220.10" width="3.4" height="3.4" fill="#e62c36"/>
<rect x="490.30" y="220.10" width="3.4" height="3.4" fill="#e62c36"/>
<rect x="493.30" y="220.10" width="3.4" height="3.4" fill="#e62c36"/>
<rect x="496.30" y="220.10" width="3.4" height="3.4" fill="#e62c36"/>
<rect x="493.60" y="226.50" width="3.4" height="3.4" fill="#e62c36"/>
<rect x="491.90" y="230.20" width="3.4" height="3.4" fill="#e62c36"/>
<rect x="495.10" y="230.20" width="3.4" height="3.4" fill="#e62c36"/>
<rect x="493.60" y="234.80" width="3.4" height="3.4" fill="#e62c36"/>
<rect x="493.60" y="238.60" width="3.4" height="3.4" fill="#e62c36"/>
<rect x="484.30" y="250.10" width="3.4" height="3.4" fill="#e62c36"/>
<rect x="487.30" y="250.10" width="3.4" height="3.4" fill="#e62c36"/>
<rect x="490.30" y="250.10" width="3.4" height="3.4" fill="#e62c36"/>
<rect x="493.30" y="250.10" width="3.4" height="3.4" fill="#e62c36"/>
<rect x="496.30" y="250.10" width="3.4" height="3.4" fill="#e62c36"/>
<rect x="499.30" y="250.10" width="3.4" height="3.4" fill="#e62c36"/>
<rect x="502.30" y="250.10" width="3.4" height="3.4" fill="#e62c36"/>
<rect x="492.00" y="258.50" width="3.4" height="3.4" fill="#e62c36"/>
<rect x="493.90" y="261.60" width="3.4" height="3.4" fill="#e62c36"/>
<rect x="493.60" y="269.30" width="3.4" height="3.4" fill="#e62c36"/>
<rect x="492.30" y="285.30" width="3.4" height="3.4" fill="#e62c36"/>
<rect x="489.30" y="288.30" width="3.4" height="3.4" fill="#e62c36"/>
<rect x="493.80" y="290.70" width="3.4" height="3.4" fill="#e62c36"/>
<rect x="495.80" y="293.00" width="3.4" height="3.4" fill="#e62c36"/>
<line x1="495.30" y1="212.70" x2="495.30" y2="267.70" stroke="#e62c36" stroke-width="1.0"/>
<line x1="490.00" y1="212.70" x2="500.70" y2="212.70" stroke="#e62c36" stroke-width="1.0"/>
<line x1="490.00" y1="267.70" x2="500.70" y2="267.70" stroke="#e62c36" stroke-width="1.0"/>
<line x1="45.40" y1="346.60" x2="45.40" y2="485.00" stroke="#1a1a1a" stroke-width="1.2"/>
<line x1="41.30" y1="346.60" x2="45.40" y2="346.60" stroke="#1a1a1a" stroke-width="1.1"/>
<text transform="translate(38.40 349.50) scale(0.926 1)" font-size="9.50" text-anchor="end" stroke="#1a1a1a" stroke-width="0.35">15</text>
<line x1="41.30" y1="381.20" x2="45.40" y2="381.20" stroke="#1a1a1a" stroke-width="1.1"/>
<text transform="translate(38.40 384.10) scale(0.926 1)" font-size="9.50" text-anchor="end" stroke="#1a1a1a" stroke-width="0.35">10</text>
<line x1="41.30" y1="415.80" x2="45.40" y2="415.80" stroke="#1a1a1a" stroke-width="1.1"/>
<text transform="translate(38.40 418.70) scale(0.926 1)" font-size="9.50" text-anchor="end" stroke="#1a1a1a" stroke-width="0.35">5</text>
<line x1="41.30" y1="450.40" x2="45.40" y2="450.40" stroke="#1a1a1a" stroke-width="1.1"/>
<text transform="translate(38.40 453.30) scale(0.926 1)" font-size="9.50" text-anchor="end" stroke="#1a1a1a" stroke-width="0.35">0</text>
<line x1="41.30" y1="485.00" x2="45.40" y2="485.00" stroke="#1a1a1a" stroke-width="1.1"/>
<text transform="translate(38.40 487.90) scale(0.926 1)" font-size="9.50" text-anchor="end" stroke="#1a1a1a" stroke-width="0.35">–5</text>
<line x1="45.40" y1="450.40" x2="211.65" y2="450.40" stroke="#1a1a1a" stroke-width="1.2"/>
<line x1="56.45" y1="450.40" x2="56.45" y2="453.80" stroke="#1a1a1a" stroke-width="1.0"/>
<line x1="67.50" y1="450.40" x2="67.50" y2="453.80" stroke="#1a1a1a" stroke-width="1.0"/>
<line x1="78.55" y1="450.40" x2="78.55" y2="453.80" stroke="#1a1a1a" stroke-width="1.0"/>
<line x1="89.60" y1="450.40" x2="89.60" y2="453.80" stroke="#1a1a1a" stroke-width="1.0"/>
<line x1="100.65" y1="450.40" x2="100.65" y2="456.40" stroke="#1a1a1a" stroke-width="1.0"/>
<line x1="111.70" y1="450.40" x2="111.70" y2="453.80" stroke="#1a1a1a" stroke-width="1.0"/>
<line x1="122.75" y1="450.40" x2="122.75" y2="453.80" stroke="#1a1a1a" stroke-width="1.0"/>
<line x1="133.80" y1="450.40" x2="133.80" y2="453.80" stroke="#1a1a1a" stroke-width="1.0"/>
<line x1="144.85" y1="450.40" x2="144.85" y2="453.80" stroke="#1a1a1a" stroke-width="1.0"/>
<line x1="155.90" y1="450.40" x2="155.90" y2="456.40" stroke="#1a1a1a" stroke-width="1.0"/>
<line x1="166.95" y1="450.40" x2="166.95" y2="453.80" stroke="#1a1a1a" stroke-width="1.0"/>
<line x1="178.00" y1="450.40" x2="178.00" y2="453.80" stroke="#1a1a1a" stroke-width="1.0"/>
<line x1="189.05" y1="450.40" x2="189.05" y2="453.80" stroke="#1a1a1a" stroke-width="1.0"/>
<line x1="200.10" y1="450.40" x2="200.10" y2="453.80" stroke="#1a1a1a" stroke-width="1.0"/>
<line x1="211.15" y1="450.40" x2="211.15" y2="456.40" stroke="#1a1a1a" stroke-width="1.0"/>
<text transform="translate(100.65 464.20) scale(0.926 1)" font-size="9.50" text-anchor="middle" stroke="#1a1a1a" stroke-width="0.35">5</text>
<text transform="translate(155.90 464.20) scale(0.926 1)" font-size="9.50" text-anchor="middle" stroke="#1a1a1a" stroke-width="0.35">10</text>
<text transform="translate(211.15 464.20) scale(0.926 1)" font-size="9.50" text-anchor="middle" stroke="#1a1a1a" stroke-width="0.35">15</text>
<text transform="translate(130.60 480.20) scale(0.926 1)" font-size="9.50" text-anchor="middle" stroke="#1a1a1a" stroke-width="0.35">B7-H3 scores</text>
<text transform="translate(9.60 410.10) rotate(-90) scale(0.909 1)" font-size="9.90" text-anchor="middle" stroke="#1a1a1a" stroke-width="0.35">Average number of</text>
<text transform="translate(18.60 410.30) rotate(-90) scale(0.909 1)" font-size="9.68" text-anchor="middle" stroke="#1a1a1a" stroke-width="0.35">Granzyme-B<tspan font-size="6" dy="-3">+</tspan><tspan dy="3"> NK cell/mm</tspan><tspan font-size="6" dy="-3">2</tspan></text>
<text transform="translate(105.80 366.00) scale(0.926 1)" font-size="9.50" stroke="#1a1a1a" stroke-width="0.35"><tspan font-style="italic">R</tspan> = -0.6787</text>
<text transform="translate(105.80 376.20) scale(0.926 1)" font-size="9.50" stroke="#1a1a1a" stroke-width="0.35"><tspan font-style="italic">P</tspan> = 0.0227</text>
<line x1="45.60" y1="398.80" x2="178.70" y2="453.90" stroke="#1a1a1a" stroke-width="1.2"/>
<circle cx="45.70" cy="414.70" r="2.6" fill="#111"/>
<circle cx="63.80" cy="368.00" r="2.6" fill="#111"/>
<circle cx="90.50" cy="408.20" r="2.6" fill="#111"/>
<circle cx="111.70" cy="436.00" r="2.6" fill="#111"/>
<circle cx="115.60" cy="439.20" r="2.6" fill="#111"/>
<circle cx="114.30" cy="450.30" r="2.6" fill="#111"/>
<circle cx="147.00" cy="450.30" r="2.6" fill="#111"/>
<circle cx="149.30" cy="449.30" r="2.6" fill="#111"/>
<circle cx="168.90" cy="445.80" r="2.6" fill="#111"/>
<circle cx="177.80" cy="434.30" r="2.6" fill="#111"/>
<line x1="272.50" y1="347.00" x2="272.50" y2="484.60" stroke="#707070" stroke-width="1.3"/>
<line x1="266.80" y1="347.30" x2="272.50" y2="347.30" stroke="#1a1a1a" stroke-width="1.1"/>
<text transform="translate(265.30 350.10) scale(0.926 1)" font-size="9.50" text-anchor="end" stroke="#1a1a1a" stroke-width="0.35">0.6</text>
<line x1="266.80" y1="381.70" x2="272.50" y2="381.70" stroke="#1a1a1a" stroke-width="1.1"/>
<text transform="translate(265.30 384.50) scale(0.926 1)" font-size="9.50" text-anchor="end" stroke="#1a1a1a" stroke-width="0.35">0.4</text>
<line x1="266.80" y1="416.10" x2="272.50" y2="416.10" stroke="#1a1a1a" stroke-width="1.1"/>
<text transform="translate(265.30 418.90) scale(0.926 1)" font-size="9.50" text-anchor="end" stroke="#1a1a1a" stroke-width="0.35">0.2</text>
<line x1="266.80" y1="450.50" x2="272.50" y2="450.50" stroke="#1a1a1a" stroke-width="1.1"/>
<text transform="translate(265.30 453.30) scale(0.926 1)" font-size="9.50" text-anchor="end" stroke="#1a1a1a" stroke-width="0.35">0.0</text>
<line x1="266.80" y1="484.90" x2="272.50" y2="484.90" stroke="#1a1a1a" stroke-width="1.1"/>
<text transform="translate(265.30 487.70) scale(0.926 1)" font-size="9.50" text-anchor="end" stroke="#1a1a1a" stroke-width="0.35">–0.2</text>
<line x1="272.50" y1="450.50" x2="434.30" y2="450.50" stroke="#1a1a1a" stroke-width="1.2"/>
<line x1="326.13" y1="450.50" x2="326.13" y2="455.90" stroke="#1a1a1a" stroke-width="1.0"/>
<text transform="translate(326.13 466.00) scale(0.926 1)" font-size="9.50" text-anchor="middle" stroke="#1a1a1a" stroke-width="0.35">50</text>
<line x1="379.77" y1="450.50" x2="379.77" y2="455.90" stroke="#1a1a1a" stroke-width="1.0"/>
<text transform="translate(379.77 466.00) scale(0.926 1)" font-size="9.50" text-anchor="middle" stroke="#1a1a1a" stroke-width="0.35">100</text>
<line x1="433.40" y1="450.50" x2="433.40" y2="455.90" stroke="#1a1a1a" stroke-width="1.0"/>
<text transform="translate(433.40 466.00) scale(0.926 1)" font-size="9.50" text-anchor="middle" stroke="#1a1a1a" stroke-width="0.35">150</text>
<text transform="translate(359.40 482.70) scale(0.926 1)" font-size="9.50" text-anchor="middle" stroke="#1a1a1a" stroke-width="0.35">FPKM of B7-H3</text>
<text transform="translate(232.40 401.00) rotate(-90) scale(0.909 1)" font-size="9.68" text-anchor="middle" stroke="#1a1a1a" stroke-width="0.35">Signature score of</text>
<text transform="translate(243.60 400.60) rotate(-90) scale(0.909 1)" font-size="9.68" text-anchor="middle" stroke="#1a1a1a" stroke-width="0.35">activated NK cells</text>
<text transform="translate(353.00 364.40) scale(0.926 1)" font-size="9.50" stroke="#1a1a1a" stroke-width="0.35"><tspan font-style="italic">R</tspan> = -0.4313</text>
<text transform="translate(353.00 375.40) scale(0.926 1)" font-size="9.50" stroke="#1a1a1a" stroke-width="0.35"><tspan font-style="italic">P</tspan> &lt; 0.0001</text>
<line x1="274.70" y1="403.50" x2="380.80" y2="433.80" stroke="#1a1a1a" stroke-width="1.2"/>
<circle cx="286.33" cy="384.37" r="1.85" fill="#111"/>
<circle cx="291.22" cy="383.06" r="1.85" fill="#111"/>
<circle cx="280.12" cy="391.22" r="1.85" fill="#111"/>
<circle cx="305.59" cy="390.90" r="1.85" fill="#111"/>
<circle cx="326.33" cy="395.63" r="1.85" fill="#111"/>
<circle cx="281.43" cy="399.88" r="1.85" fill="#111"/>
<circle cx="283.06" cy="395.31" r="1.85" fill="#111"/>
<circle cx="286.33" cy="395.31" r="1.85" fill="#111"/>
<circle cx="288.78" cy="396.12" r="1.85" fill="#111"/>
<circle cx="290.41" cy="395.31" r="1.85" fill="#111"/>
<circle cx="295.31" cy="394.49" r="1.85" fill="#111"/>
<circle cx="297.76" cy="394.49" r="1.85" fill="#111"/>
<circle cx="301.84" cy="395.31" r="1.85" fill="#111"/>
<circle cx="306.73" cy="396.12" r="1.85" fill="#111"/>
<circle cx="305.10" cy="398.57" r="1.85" fill="#111"/>
<circle cx="307.55" cy="399.39" r="1.85" fill="#111"/>
<circle cx="286.33" cy="398.57" r="1.85" fill="#111"/>
<circle cx="287.96" cy="400.20" r="1.85" fill="#111"/>
<circle cx="289.59" cy="399.39" r="1.85" fill="#111"/>
<circle cx="291.22" cy="401.02" r="1.85" fill="#111"/>
<circle cx="294.49" cy="398.57" r="1.85" fill="#111"/>
<circle cx="296.12" cy="401.02" r="1.85" fill="#111"/>
<circle cx="300.20" cy="399.39" r="1.85" fill="#111"/>
<circle cx="315.39" cy="403.80" r="1.85" fill="#111"/>
<circle cx="292.86" cy="402.65" r="1.85" fill="#111"/>
<circle cx="294.49" cy="404.29" r="1.85" fill="#111"/>
<circle cx="296.12" cy="403.47" r="1.85" fill="#111"/>
<circle cx="297.76" cy="402.65" r="1.85" fill="#111"/>
<circle cx="292.04" cy="405.10" r="1.85" fill="#111"/>
<circle cx="293.67" cy="406.73" r="1.85" fill="#111"/>
<circle cx="296.12" cy="405.92" r="1.85" fill="#111"/>
<circle cx="291.22" cy="408.37" r="1.85" fill="#111"/>
<circle cx="292.86" cy="409.18" r="1.85" fill="#111"/>
<circle cx="295.31" cy="409.18" r="1.85" fill="#111"/>
<circle cx="298.57" cy="407.55" r="1.85" fill="#111"/>
<circle cx="300.20" cy="409.18" r="1.85" fill="#111"/>
<circle cx="301.84" cy="410.00" r="1.85" fill="#111"/>
<circle cx="304.29" cy="410.82" r="1.85" fill="#111"/>
<circle cx="307.55" cy="410.82" r="1.85" fill="#111"/>
<circle cx="310.00" cy="411.63" r="1.85" fill="#111"/>
<circle cx="313.27" cy="411.63" r="1.85" fill="#111"/>
<circle cx="279.80" cy="406.73" r="1.85" fill="#111"/>
<circle cx="280.61" cy="409.18" r="1.85" fill="#111"/>
<circle cx="282.24" cy="410.82" r="1.85" fill="#111"/>
<circle cx="283.88" cy="410.00" r="1.85" fill="#111"/>
<circle cx="285.51" cy="411.63" r="1.85" fill="#111"/>
<circle cx="278.98" cy="411.63" r="1.85" fill="#111"/>
<circle cx="277.35" cy="413.76" r="1.85" fill="#111"/>
<circle cx="274.90" cy="414.08" r="1.85" fill="#111"/>
<circle cx="287.14" cy="413.76" r="1.85" fill="#111"/>
<circle cx="290.41" cy="413.27" r="1.85" fill="#111"/>
<circle cx="293.67" cy="412.45" r="1.85" fill="#111"/>
<circle cx="294.49" cy="414.90" r="1.85" fill="#111"/>
<circle cx="298.57" cy="414.08" r="1.85" fill="#111"/>
<circle cx="300.20" cy="415.71" r="1.85" fill="#111"/>
<circle cx="302.65" cy="414.90" r="1.85" fill="#111"/>
<circle cx="306.73" cy="413.27" r="1.85" fill="#111"/>
<circle cx="309.18" cy="414.08" r="1.85" fill="#111"/>
<circle cx="311.63" cy="415.71" r="1.85" fill="#111"/>
<circle cx="314.08" cy="416.53" r="1.85" fill="#111"/>
<circle cx="317.35" cy="417.35" r="1.85" fill="#111"/>
<circle cx="320.61" cy="418.16" r="1.85" fill="#111"/>
<circle cx="326.33" cy="417.35" r="1.85" fill="#111"/>
<circle cx="329.59" cy="418.98" r="1.85" fill="#111"/>
<circle cx="334.49" cy="410.49" r="1.85" fill="#111"/>
<circle cx="331.22" cy="413.27" r="1.85" fill="#111"/>
<circle cx="339.88" cy="418.98" r="1.85" fill="#111"/>
<circle cx="294.49" cy="418.16" r="1.85" fill="#111"/>
<circle cx="296.94" cy="418.98" r="1.85" fill="#111"/>
<circle cx="299.39" cy="417.35" r="1.85" fill="#111"/>
<circle cx="301.84" cy="418.98" r="1.85" fill="#111"/>
<circle cx="305.10" cy="418.16" r="1.85" fill="#111"/>
<circle cx="306.73" cy="419.80" r="1.85" fill="#111"/>
<circle cx="311.63" cy="421.43" r="1.85" fill="#111"/>
<circle cx="315.71" cy="423.88" r="1.85" fill="#111"/>
<circle cx="317.35" cy="423.06" r="1.85" fill="#111"/>
<circle cx="322.24" cy="421.43" r="1.85" fill="#111"/>
<circle cx="321.43" cy="423.06" r="1.85" fill="#111"/>
<circle cx="328.78" cy="423.06" r="1.85" fill="#111"/>
<circle cx="334.49" cy="421.92" r="1.85" fill="#111"/>
<circle cx="296.94" cy="422.24" r="1.85" fill="#111"/>
<circle cx="301.84" cy="423.06" r="1.85" fill="#111"/>
<circle cx="291.22" cy="423.06" r="1.85" fill="#111"/>
<circle cx="286.33" cy="425.51" r="1.85" fill="#111"/>
<circle cx="281.10" cy="427.96" r="1.85" fill="#111"/>
<circle cx="301.51" cy="427.14" r="1.85" fill="#111"/>
<circle cx="302.65" cy="435.31" r="1.85" fill="#111"/>
<circle cx="310.82" cy="437.43" r="1.85" fill="#111"/>
<circle cx="332.53" cy="431.22" r="1.85" fill="#111"/>
<circle cx="345.43" cy="427.96" r="1.85" fill="#111"/>
<circle cx="353.00" cy="437.80" r="1.85" fill="#111"/>
<circle cx="366.00" cy="429.60" r="1.85" fill="#111"/>
<circle cx="380.20" cy="431.20" r="1.85" fill="#111"/>
<circle cx="299.20" cy="451.50" r="1.85" fill="#111"/>
</svg>
</body></html>
